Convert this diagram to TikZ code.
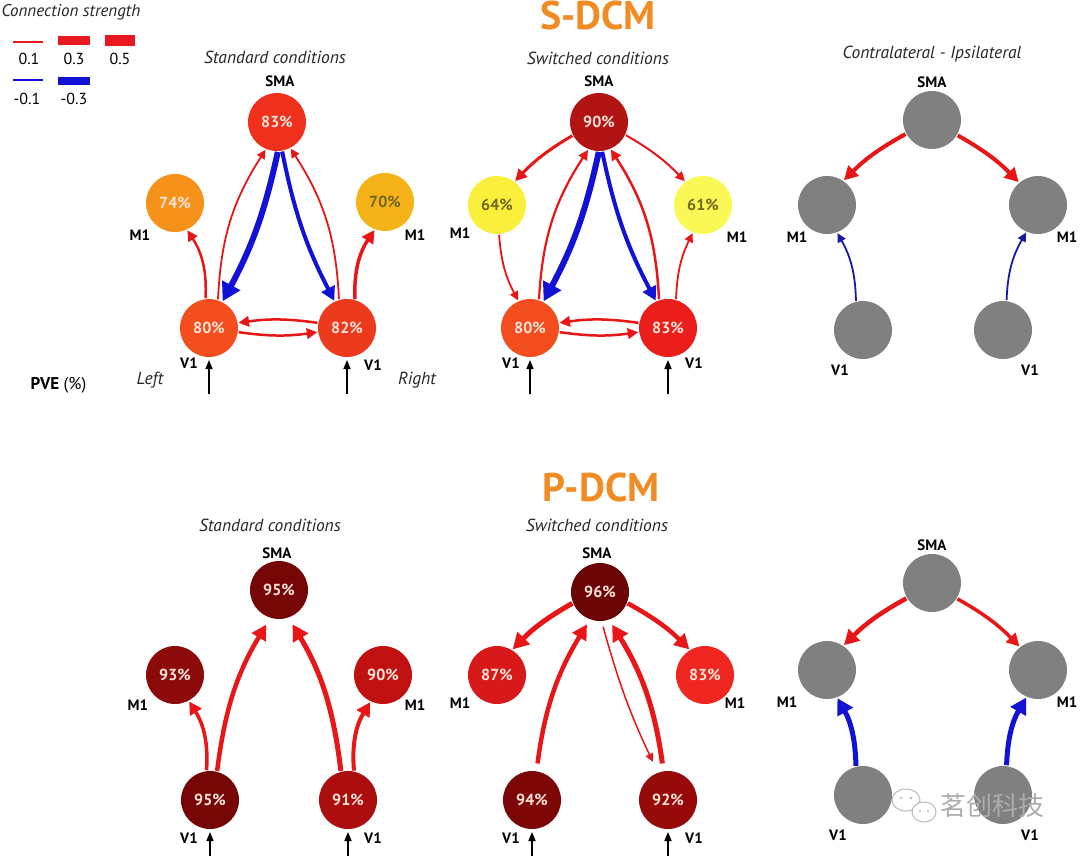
\documentclass[tikz,border=0pt]{standalone}
\usepackage{fontspec}
\setmainfont{PT Sans}
\newfontfamily\cjkfont{Noto Sans CJK SC}
\usetikzlibrary{arrows.meta,calc}
\definecolor{ared}{RGB}{232,22,22}
\definecolor{legred}{RGB}{232,25,30}
\definecolor{ablue}{RGB}{18,18,215}
\definecolor{dblue}{RGB}{25,25,165}
\definecolor{orng}{RGB}{240,140,35}
\definecolor{gnode}{RGB}{128,128,128}
\definecolor{pct}{RGB}{255,228,218}
\definecolor{olive}{RGB}{115,105,30}
\definecolor{cA}{RGB}{238,48,28}
\definecolor{cB}{RGB}{246,145,25}
\definecolor{cC}{RGB}{245,178,25}
\definecolor{cD}{RGB}{245,78,30}
\definecolor{cE}{RGB}{238,58,28}
\definecolor{cF}{RGB}{178,20,20}
\definecolor{cG}{RGB}{250,240,60}
\definecolor{cH}{RGB}{250,248,85}
\definecolor{cI}{RGB}{235,30,28}
\definecolor{cJ}{RGB}{118,5,5}
\definecolor{cK}{RGB}{140,10,10}
\definecolor{cL}{RGB}{192,16,16}
\definecolor{cM}{RGB}{172,14,14}
\definecolor{cN}{RGB}{108,5,5}
\definecolor{cO}{RGB}{215,25,25}
\definecolor{cP}{RGB}{240,38,32}
\definecolor{cQ}{RGB}{125,6,6}
\definecolor{cR}{RGB}{150,10,10}
\begin{document}
\begin{tikzpicture}[x=1pt,y=-1pt,
 region/.style={circle,minimum size=58pt,inner sep=0pt,outer sep=0pt,fill=#1,text=pct,font=\bfseries\fontsize{16}{16}\selectfont},
 lbl/.style={font=\bfseries\fontsize{15}{15}\selectfont},
 ttl/.style={font=\itshape\fontsize{17.5}{17.5}\selectfont,text=black!85},
 legtxt/.style={font=\fontsize{16}{16}\selectfont},
 rarr/.style={draw=ared,line width=#1pt,shorten <=1pt,shorten >=1pt,-{Triangle[length=5pt 2.2,width=4pt 2.6]}},
 barr/.style={draw=ablue,line width=#1pt,shorten <=1pt,shorten >=1pt,-{Triangle[length=5pt 2.2,width=4pt 2.6]}},
 darr/.style={draw=dblue,line width=#1pt,shorten <=1pt,shorten >=1pt,-{Triangle[length=5pt 2.2,width=4pt 2.6]}},
 inarr/.style={draw=black,line width=1.6pt,shorten >=3pt,-{Triangle[length=9pt,width=7pt]}},
]
\useasboundingbox (0,0) rectangle (1080,856);
\fill[white] (0,0) rectangle (1080,856);

% ---------- legend ----------
\node[font=\itshape\fontsize{17}{17}\selectfont,anchor=west,text=black!85] (legtitle) at (-2,12) {Connection strength};
\draw[legred,line width=2pt] (13,42) -- (43,42);
\fill[legred] (58,36) rectangle (90,45);
\fill[legred] (105,35) rectangle (135,46);
\draw[ablue,line width=2pt] (13,80) -- (43,80);
\fill[ablue] (58,77) rectangle (90,85);
\node[legtxt] (l1) at (29,59) {0.1};
\node[legtxt] (l2) at (74,59) {0.3};
\node[legtxt] (l3) at (120,59) {0.5};
\node[legtxt] (l4) at (27,99) {-0.1};
\node[legtxt] (l5) at (74,99) {-0.3};
\node[anchor=west,font=\fontsize{17}{17}\selectfont] (pve) at (27,385) {\textbf{PVE} (\%)};

% ---------- titles ----------
\node[font=\bfseries\fontsize{40}{40}\selectfont,text=orng] (sdcm) at (598,16) {S-DCM};
\node[font=\bfseries\fontsize{40}{40}\selectfont,text=orng] (pdcm) at (601,487) {P-DCM};

% ---------- panel 1 ----------
\node[ttl] (a-t) at (275,57) {Standard conditions};
\node[region=cA] (a-sma) at (277,122) {83\%};
\node[region=cB] (a-m1l) at (175,203) {74\%};
\node[region=cC,text=olive] (a-m1r) at (385,202) {70\%};
\node[region=cD] (a-v1l) at (209,328) {80\%};
\node[region=cE] (a-v1r) at (347,328) {82\%};
\node[lbl] at (280,81) {SMA};
\node[lbl] at (140,235) {M1};
\node[lbl] at (415,235) {M1};
\node[lbl] at (189,363) {V1};
\node[lbl] at (373,365) {V1};
\node[ttl] at (150,380) {Left};
\node[ttl] at (417,380) {Right};
\draw[rarr=1.8] (a-v1l.72) to[bend left=15] (a-sma.-112);
\draw[rarr=1.8] (a-v1r.106) to[bend right=15] (a-sma.-63);
\draw[barr=6] (a-sma.-88) to[bend left=8] (a-v1l.63);
\draw[barr=4] (a-sma.-80) to[bend right=8] (a-v1r.115);
\draw[rarr=2.5] (a-v1l.97) to[bend right=18] (a-m1l.-66);
\draw[rarr=3.5] (a-v1r.74) to[bend left=18] (a-m1r.-110);
\draw[rarr=2.5] (a-v1r.170) to[bend right=8] (a-v1l.10);
\draw[rarr=2.5] (a-v1l.-8) to[bend right=8] (a-v1r.-172);
\coordinate (a-in1) at (209,394);
\coordinate (a-in2) at (347,394);
\draw[inarr] (a-in1) -- (a-v1l.south);
\draw[inarr] (a-in2) -- (a-v1r.south);

% ---------- panel 2 ----------
\node[ttl] (b-t) at (598,58) {Switched conditions};
\node[region=cF] (b-sma) at (599,122) {90\%};
\node[region=cG,text=olive] (b-m1l) at (497,205) {64\%};
\node[region=cH,text=olive] (b-m1r) at (703,205) {61\%};
\node[region=cD] (b-v1l) at (530,328) {80\%};
\node[region=cI] (b-v1r) at (668,328) {83\%};
\node[lbl] at (599,81) {SMA};
\node[lbl] at (460,233) {M1};
\node[lbl] at (737,237) {M1};
\node[lbl] at (511,363) {V1};
\node[lbl] at (694,363) {V1};
\draw[rarr=3] (b-sma.-153) to[bend right=8] (b-m1l.53);
\draw[rarr=2] (b-sma.-26) to[bend left=8] (b-m1r.127);
\draw[rarr=1.8] (b-m1l.-86) to[bend right=12] (b-v1l.113);
\draw[rarr=1.8] (b-v1r.74) to[bend left=12] (b-m1r.-110);
\draw[rarr=2.2] (b-v1l.72) to[bend left=15] (b-sma.-111);
\draw[rarr=2.5] (b-v1r.108) to[bend right=15] (b-sma.-67);
\draw[barr=6] (b-sma.-90) to[bend left=8] (b-v1l.63);
\draw[barr=4] (b-sma.-84) to[bend right=8] (b-v1r.114);
\draw[rarr=2.5] (b-v1r.170) to[bend right=8] (b-v1l.10);
\draw[rarr=2.5] (b-v1l.-8) to[bend right=8] (b-v1r.-172);
\coordinate (b-in1) at (530,394);
\coordinate (b-in2) at (668,394);
\draw[inarr] (b-in1) -- (b-v1l.south);
\draw[inarr] (b-in2) -- (b-v1r.south);

% ---------- panel 3 ----------
\node[ttl] (c-t) at (932,54) {Contralateral - Ipsilateral};
\node[region=gnode] (c-sma) at (932,120) {};
\node[region=gnode] (c-m1l) at (827,205) {};
\node[region=gnode] (c-m1r) at (1038,205) {};
\node[region=gnode] (c-v1l) at (863,330) {};
\node[region=gnode] (c-v1r) at (1003,330) {};
\node[lbl] at (932,82) {SMA};
\node[lbl] at (797,237) {M1};
\node[lbl] at (1067,237) {M1};
\node[lbl] at (840,370) {V1};
\node[lbl] at (1030,370) {V1};
\draw[rarr=4] (c-sma.-152) to[bend right=8] (c-m1l.56);
\draw[rarr=4] (c-sma.-31) to[bend left=8] (c-m1r.130);
\draw[darr=1.8] (c-v1l.104) to[bend right=14] (c-m1l.-70);
\draw[darr=1.8] (c-v1r.83) to[bend left=14] (c-m1r.-113);

% ---------- panel 4 ----------
\node[ttl] (d-t) at (270,525) {Standard conditions};
\node[region=cJ] (d-sma) at (279,590) {95\%};
\node[region=cK] (d-m1l) at (175,675) {93\%};
\node[region=cL] (d-m1r) at (383,675) {90\%};
\node[region=cJ] (d-v1l) at (210,800) {95\%};
\node[region=cM] (d-v1r) at (348,800) {91\%};
\node[lbl] at (277,553) {SMA};
\node[lbl] at (138,705) {M1};
\node[lbl] at (415,705) {M1};
\node[lbl] at (189,838) {V1};
\node[lbl] at (373,838) {V1};
\draw[rarr=3.5] (d-v1l.97) to[bend right=18] (d-m1l.-62);
\draw[rarr=4.5,shorten >=8pt] (d-v1l.76) to[bend left=12] (d-sma.-107);
\draw[rarr=5,shorten >=8pt] (d-v1r.104) to[bend right=12] (d-sma.-71);
\draw[rarr=4] (d-v1r.78) to[bend left=18] (d-m1r.-115);
\coordinate (d-in1) at (210,858);
\coordinate (d-in2) at (348,858);
\draw[inarr] (d-in1) -- (d-v1l.south);
\draw[inarr] (d-in2) -- (d-v1r.south);

% ---------- panel 5 ----------
\node[ttl] (e-t) at (597,525) {Switched conditions};
\node[region=cN] (e-sma) at (600,592) {96\%};
\node[region=cO] (e-m1l) at (497,675) {87\%};
\node[region=cP] (e-m1r) at (705,675) {83\%};
\node[region=cQ] (e-v1l) at (532,800) {94\%};
\node[region=cR] (e-v1r) at (668,800) {92\%};
\node[lbl] at (597,553) {SMA};
\node[lbl] at (460,703) {M1};
\node[lbl] at (735,703) {M1};
\node[lbl] at (511,838) {V1};
\node[lbl] at (694,838) {V1};
\draw[rarr=5] (e-sma.-158) to[bend right=8] (e-m1l.59);
\draw[rarr=4.5] (e-sma.-22) to[bend left=8] (e-m1r.121);
\draw[rarr=4.5,shorten <=8pt,shorten >=6pt] (e-v1l.81) to[bend left=12] (e-sma.-110);
\draw[rarr=5,shorten <=8pt,shorten >=6pt] (e-v1r.99) to[bend right=12] (e-sma.-72);
\draw[rarr=1.5,shorten <=6pt,shorten >=12pt] (e-sma.-87) to[bend right=5] (e-v1r.110);
\coordinate (e-in1) at (532,858);
\coordinate (e-in2) at (668,858);
\draw[inarr] (e-in1) -- (e-v1l.south);
\draw[inarr] (e-in2) -- (e-v1r.south);

% ---------- panel 6 ----------
\node[region=gnode] (f-sma) at (932,583) {};
\node[region=gnode] (f-m1l) at (827,670) {};
\node[region=gnode] (f-m1r) at (1038,670) {};
\node[region=gnode] (f-v1l) at (863,795) {};
\node[region=gnode] (f-v1r) at (1003,795) {};
\node[lbl] at (932,545) {SMA};
\node[lbl] at (787,702) {M1};
\node[lbl] at (1067,702) {M1};
\node[lbl] at (838,835) {V1};
\node[lbl] at (1030,835) {V1};
\draw[rarr=4.5] (f-sma.-149) to[bend right=8] (f-m1l.56);
\draw[rarr=3.5] (f-sma.-32) to[bend left=8] (f-m1r.128);
\draw[barr=5] (f-v1l.104) to[bend right=14] (f-m1l.-70);
\draw[barr=5] (f-v1r.83) to[bend left=14] (f-m1r.-113);

% ---------- watermark ----------
\draw[gray!55,fill=white,line width=1pt] (906,800) ellipse (14 and 11);
\draw[gray!55,fill=white,line width=1pt] (924,812) ellipse (12 and 10);
\fill[gray!55] (901,798) circle (1.3) (911,798) circle (1.3) (920,811) circle (1.1) (928,811) circle (1.1);
\node[font=\cjkfont\fontsize{26}{26}\selectfont,text=gray!65] (wm) at (992,806) {茗创科技};
\end{tikzpicture}
\end{document}
